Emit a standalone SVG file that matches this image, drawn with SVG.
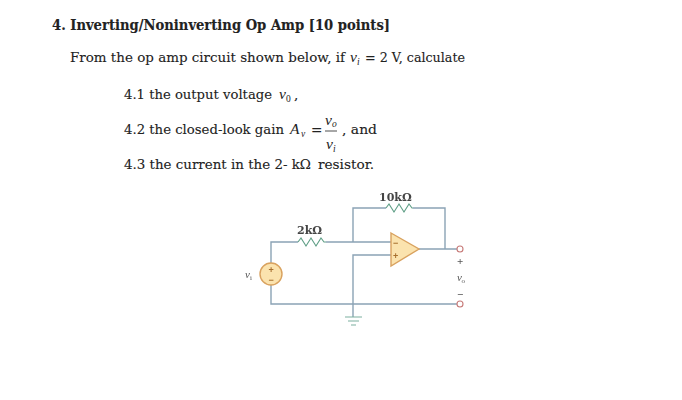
<svg xmlns="http://www.w3.org/2000/svg" width="682" height="400" viewBox="0 0 682 400">
<defs>
<style>
.t{font-family:"DejaVu Serif","Liberation Serif",serif;font-size:13.6px;fill:#222;stroke:#222;stroke-width:.12}
.b{font-weight:bold;font-size:14px}
.m{font-family:"Liberation Serif","DejaVu Serif",serif;font-style:italic;font-size:15.5px;fill:#222}
.s{font-size:9.5px}
.w{fill:none;stroke:#8ba3b5;stroke-width:1.4}
.r{fill:none;stroke:#5f9e86;stroke-width:1.1}
.o{fill:#fbe3ae;stroke:#d9a25f;stroke-width:1.4}
.term{fill:#fff;stroke:#c77a78;stroke-width:1.1}
.lab{font-family:"DejaVu Serif","Liberation Serif",serif;font-weight:bold;font-size:11px;fill:#444}
.sym{font-family:"Liberation Serif",serif;font-size:11px;fill:#555}
.sign{font-family:"Liberation Sans",sans-serif;font-size:9px;font-weight:bold;fill:#a8702f}
.gr{fill:none;stroke:#7fb0a0;stroke-width:1.1}
</style>
<filter id="soft" x="-5%" y="-5%" width="110%" height="110%"><feGaussianBlur stdDeviation="0.35"/></filter>
</defs>
<g id="problem-text">
<text class="t b" x="52" y="30" textLength="338" lengthAdjust="spacingAndGlyphs">4. Inverting/Noninverting Op Amp [10 points]</text>
<text class="t" x="70" y="62" textLength="275" lengthAdjust="spacingAndGlyphs">From the op amp circuit shown below, if</text>
<text class="m" x="350" y="62">v</text><text class="m s" x="357" y="65">i</text>
<text class="t" x="365" y="62" textLength="100" lengthAdjust="spacingAndGlyphs">= 2 V, calculate</text>
<text class="t" x="124" y="99" textLength="148" lengthAdjust="spacingAndGlyphs">4.1 the output voltage</text>
<text class="m" x="279" y="99">v</text><text class="m s" x="286" y="102" style="font-style:normal">0</text><text class="t" x="294" y="99">,</text>
<text class="t" x="124" y="134" textLength="160" lengthAdjust="spacingAndGlyphs">4.2 the closed-look gain</text>
<text class="m" x="290" y="134">A</text><text class="m s" x="301" y="137">v</text>
<text class="t" x="311" y="134">=</text>
<text class="m" x="325" y="125">v</text><text class="m s" x="332" y="127">o</text>
<line x1="325" y1="131" x2="337" y2="131" stroke="#222" stroke-width=".8"/>
<text class="m" x="326" y="149">v</text><text class="m s" x="333" y="152">i</text>
<text class="t" x="342" y="134" textLength="35" lengthAdjust="spacingAndGlyphs">, and</text>
<text class="t" x="124" y="169" textLength="187" lengthAdjust="spacingAndGlyphs">4.3 the current in the 2- kΩ</text>
<text class="t" x="318" y="169" textLength="56" lengthAdjust="spacingAndGlyphs">resistor.</text>
</g>
<g filter="url(#soft)">
<g id="connectors">
<path class="w" d="M298 242H271V263M271 285V304H457M326 242H391M353 242V208H386M413 208H445V249M353 304V255H391M419 249H457"/>
<path class="w" d="M353 304V317"/>
</g>
<g id="resistor-2k">
<path class="r" d="M298 242L301 238L306 246L311 238L316 246L321 238L324 242L326 242"/>
<text class="lab" x="297" y="234">2kΩ</text>
</g>
<g id="resistor-10k">
<path class="r" d="M386 208L389 204L394 212L399 204L404 212L409 204L412 208L413 208"/>
<text class="lab" x="379" y="201">10kΩ</text>
</g>
<g id="source">
<circle class="o" cx="271" cy="274" r="11"/>
<text class="sign" x="268.500" y="272.500">+</text>
<text class="sign" x="268.500" y="282.500">−</text>
<text class="sym" x="245" y="278" font-style="italic">v</text><text class="sym" x="250" y="280" style="font-size:7px">i</text>
</g>
<g id="opamp">
<path class="o" d="M391 233L419 249L391 266Z"/>
<text class="sign" x="393" y="245.500">−</text>
<text class="sign" x="393" y="258.500">+</text>
</g>
<g id="terminal-plus"><circle class="term" cx="460" cy="249" r="3"/></g>
<g id="terminal-minus"><circle class="term" cx="460" cy="304" r="3"/></g>
<g id="output-label">
<text class="sym" x="457" y="265" style="font-weight:bold">+</text>
<text class="sym" x="457" y="281" font-style="italic">v</text><text class="sym" x="461.500" y="283" style="font-size:7px">o</text>
<text class="sym" x="457" y="298" style="font-weight:bold">−</text>
</g>
<g id="ground">
<path class="gr" d="M345 317H362M348 321H359M351 325H356"/>
</g>
</g>
</svg>
